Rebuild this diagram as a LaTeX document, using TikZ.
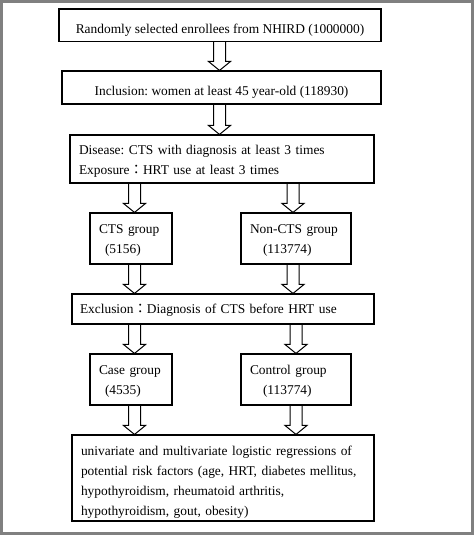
\documentclass[tikz,border=0pt]{standalone}
\usepackage{fontspec}
\setmainfont{Liberation Serif}
\newfontfamily\cjk{Noto Sans CJK TC}
\usetikzlibrary{calc}
\frenchspacing
\newcommand\dn[2]{\raisebox{-#1}[\height][\depth]{#2}}
\newcommand\lines[1]{\begin{tabular}{@{}l@{}}#1\end{tabular}}
\tikzset{
  box/.style={draw, line width=1.1pt, inner sep=0pt, font=\fontsize{13.4}{20}\selectfont},
  cbox/.style={box, align=center},
  lbox/.style={box, align=left, inner xsep=#1, text width=\boxw-2*#1},
  blockarrow/.style={line width=1pt, to path={let \p1=(\tikztostart), \p2=(\tikztotarget) in
    (\x1-6pt,\y1) -- (\x1-6pt,\y2+9pt) -- (\x1-11pt,\y2+9pt) -- (\x1,\y2) -- (\x1+11pt,\y2+9pt) -- (\x1+6pt,\y2+9pt) -- (\x1+6pt,\y1)}}
}
\newlength{\boxw}
\begin{document}
\begin{tikzpicture}[x=1pt,y=-1pt]
\useasboundingbox (0,0) rectangle (474,535);
\draw[line width=2.6pt, draw={rgb,255:red,128;green,128;blue,128}] (1.3,1.3) rectangle (472.7,533.2);

\coordinate (cM) at (219.5,0);
\coordinate (cL) at (134.5,0);
\coordinate (cR1) at (293,0);
\coordinate (cR2) at (296,0);

\node[cbox, minimum width=322pt, minimum height=32.5pt] (b1) at (220,25.25) {\dn{5pt}{Randomly selected enrollees from NHIRD (1000000)}};
\node[cbox, minimum width=319pt, minimum height=33pt] (b2) at (221.5,87.5) {\dn{5pt}{Inclusion: women at least 45 year-old (118930)}};
\setlength{\boxw}{304pt}
\node[lbox=9pt, minimum height=48pt] (b3) at (222,159) {\dn{1pt}{\lines{Disease: CTS with diagnosis at least 3 times\\Exposure{\cjk ：}HRT use at least 3 times}}};
\setlength{\boxw}{82pt}
\node[lbox=9pt, minimum height=51pt] (cts) at (131,238.5) {\dn{0.8pt}{\lines{CTS group\\\hspace*{6pt}(5156)}}};
\setlength{\boxw}{110pt}
\node[lbox=9pt, minimum height=51pt] (noncts) at (296,238.5) {\dn{0.8pt}{\lines{Non-CTS group\\\hspace*{13pt}(113774)}}};
\setlength{\boxw}{302pt}
\node[lbox=8pt, minimum height=30pt] (excl) at (223,309) {\dn{1.1pt}{Exclusion{\cjk ：}Diagnosis of CTS before HRT use}};
\setlength{\boxw}{82pt}
\node[lbox=9pt, minimum height=51pt] (case) at (131,379.5) {\dn{0.8pt}{\lines{Case group\\\hspace*{6pt}(4535)}}};
\setlength{\boxw}{110pt}
\node[lbox=9pt, minimum height=51pt] (control) at (296,379.5) {\dn{0.8pt}{\lines{Control group\\\hspace*{13pt}(113774)}}};
\setlength{\boxw}{302pt}
\node[lbox=9pt, minimum height=86pt] (final) at (223,478) {\dn{3pt}{\lines{univariate and multivariate logistic regressions of\\potential risk factors (age, HRT, diabetes mellitus,\\hypothyroidism, rheumatoid arthritis,\\hypothyroidism, gout, obesity)}}};

\draw[blockarrow] (b1.south -| cM) to (b2.north -| cM);
\draw[blockarrow] (b2.south -| cM) to (b3.north -| cM);
\draw[blockarrow] (b3.south -| cL) to (cts.north -| cL);
\draw[blockarrow] (b3.south -| cR1) to (noncts.north -| cR1);
\draw[blockarrow] (cts.south -| cL) to (excl.north -| cL);
\draw[blockarrow] (noncts.south -| cR1) to (excl.north -| cR1);
\draw[blockarrow] (excl.south -| cL) to (case.north -| cL);
\draw[blockarrow] (excl.south -| cR2) to (control.north -| cR2);
\draw[blockarrow] (case.south -| cL) to (final.north -| cL);
\draw[blockarrow] (control.south -| cR2) to (final.north -| cR2);
\end{tikzpicture}
\end{document}
